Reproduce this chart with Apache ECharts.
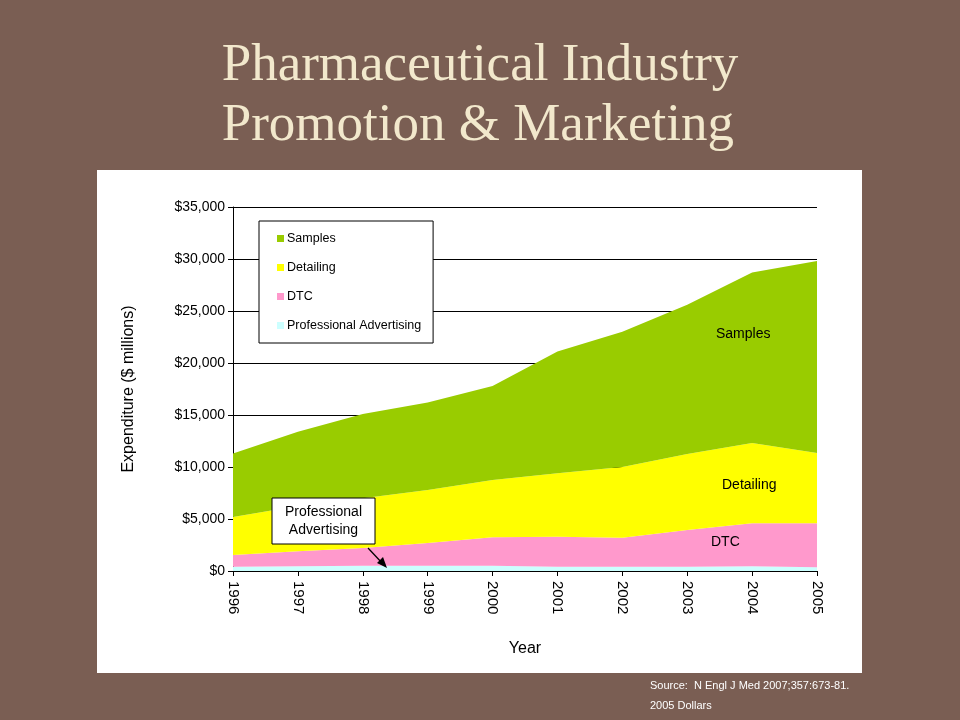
<!DOCTYPE html>
<html><head><meta charset="utf-8">
<script src="https://cdn.jsdelivr.net/npm/echarts@6/dist/echarts.min.js"></script>
<style>body{margin:0;background:#7a5e53}#c{width:960px;height:720px}</style>
</head><body><div id="c"></div>
<script>
const years = ['1996','1997','1998','1999','2000','2001','2002','2003','2004','2005'];
const profAdv = [400, 450, 500, 500, 500, 400, 400, 400, 450, 350];
const dtc = [1150, 1450, 1700, 2200, 2750, 2900, 2800, 3550, 4150, 4250];
const detailing = [3650, 4350, 4800, 5100, 5500, 6100, 6800, 7300, 7700, 6750];
const samples = [6100, 7150, 8100, 8400, 9050, 11700, 13000, 14350, 16400, 18450];
const yTicks = [0, 5000, 10000, 15000, 20000, 25000, 30000, 35000];

const chart = echarts.init(document.getElementById('c'));
const mk = (name, data, color) => ({
  name, type: 'line', stack: 'all', data, symbol: 'none',
  lineStyle: {width: 0}, areaStyle: {color, opacity: 1}, itemStyle: {color}
});
chart.setOption({
  backgroundColor: '#7a5e53',
  animation: false,
  textStyle: {fontFamily: 'Arial, Liberation Sans, sans-serif'},
  graphic: [
    {type: 'rect', shape: {x: 97, y: 170, width: 765, height: 503}, style: {fill: '#fff'}, z: -10},
    {type: 'text', left: 'center', top: 36, style: {text: 'Pharmaceutical Industry\nPromotion & Marketing', fill: '#f2e8cc', font: '53px "Liberation Serif", "Times New Roman", serif', align: 'center', lineHeight: 60}},
    {type: 'text', x: 650, y: 680, style: {text: 'Source:  N Engl J Med 2007;357:673-81.', fill: '#fff', font: '11px Arial, sans-serif'}},
    {type: 'text', x: 650, y: 700, style: {text: '2005 Dollars', fill: '#fff', font: '11px Arial, sans-serif'}},
    {type: 'text', x: 716, y: 327, z: 100, style: {text: 'Samples', fill: '#000', font: '14px Arial, sans-serif'}},
    {type: 'text', x: 722, y: 478, z: 100, style: {text: 'Detailing', fill: '#000', font: '14px Arial, sans-serif'}},
    {type: 'text', x: 711, y: 535, z: 100, style: {text: 'DTC', fill: '#000', font: '14px Arial, sans-serif'}},
    {type: 'rect', z: 100, shape: {x: 272, y: 498, width: 103, height: 46}, style: {fill: '#fff', stroke: '#000', lineWidth: 1}},
    {type: 'text', z: 101, x: 323.5, y: 503, style: {text: 'Professional\nAdvertising', fill: '#000', font: '14px Arial, sans-serif', align: 'center', lineHeight: 18}},
    {type: 'line', z: 101, shape: {x1: 368, y1: 548, x2: 383, y2: 564}, style: {stroke: '#000', lineWidth: 1.2}},
    {type: 'polygon', z: 101, shape: {points: [[387, 568], [377, 563], [383, 557]]}, style: {fill: '#000'}}
  ],
  legend: {
    orient: 'vertical', left: 259, top: 221, padding: [11, 12, 11, 18],
    backgroundColor: '#fff', borderColor: '#000', borderWidth: 1, itemGap: 16,
    icon: 'rect', itemWidth: 7, itemHeight: 7,
    data: ['Samples', 'Detailing', 'DTC', 'Professional Advertising'],
    textStyle: {fontSize: 12.5, color: '#000', padding: [0, 0, 0, -2], width: 156, overflow: 'none'}
  },
  grid: {left: 233, right: 143, top: 207, bottom: 149},
  xAxis: {
    type: 'category', data: years, boundaryGap: false, name: 'Year', nameLocation: 'middle', nameGap: 70,
    nameTextStyle: {fontSize: 16, color: '#000'},
    axisLine: {lineStyle: {color: '#000'}}, axisTick: {show: true, lineStyle: {color: '#000'}},
    axisLabel: {rotate: -90, fontSize: 15, color: '#000', margin: 10}
  },
  yAxis: {
    type: 'value', min: 0, max: 35000, interval: 5000, name: 'Expenditure ($ millions)', nameLocation: 'middle', nameGap: 96,
    nameTextStyle: {fontSize: 16, color: '#000'},
    axisLine: {show: true, lineStyle: {color: '#000'}}, axisTick: {show: true, lineStyle: {color: '#000'}},
    splitLine: {lineStyle: {color: '#000'}},
    axisLabel: {fontSize: 14, color: '#000', formatter: v => '$' + v.toLocaleString('en-US')}
  },
  series: [
    mk('Professional Advertising', profAdv, '#ccffff'),
    mk('DTC', dtc, '#ff99cc'),
    mk('Detailing', detailing, '#ffff00'),
    mk('Samples', samples, '#99cc00')
  ]
});
</script></body></html>
